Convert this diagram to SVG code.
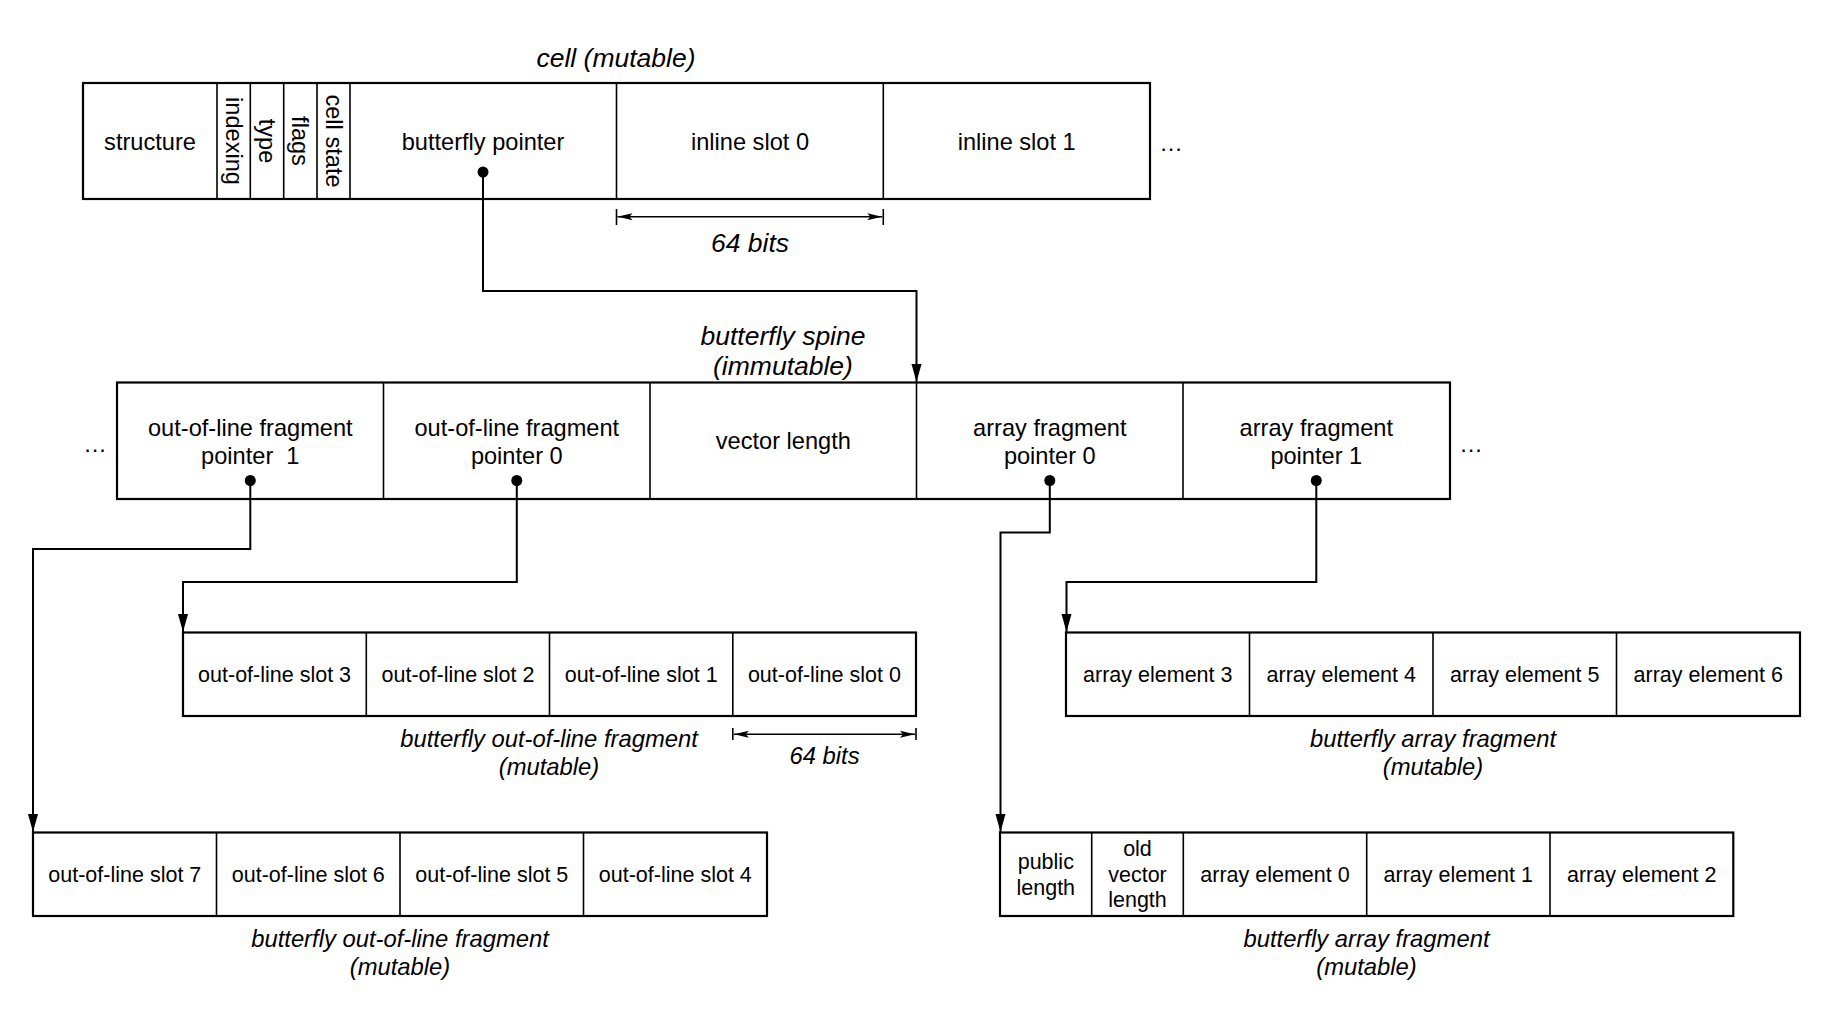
<svg xmlns="http://www.w3.org/2000/svg" width="1833" height="1016" viewBox="0 0 1833 1016">
<style>
.box{fill:#fff;stroke:#000;stroke-width:2.2}
.div{stroke:#000;stroke-width:1.6;fill:none}
.lbl{font-family:"Liberation Sans",Arial,sans-serif;font-size:23.6px;fill:#000;text-anchor:middle}
.sm{font-family:"Liberation Sans",Arial,sans-serif;font-size:21.5px;fill:#000;text-anchor:middle}
.cap{font-family:"Liberation Sans",Arial,sans-serif;font-size:26.5px;font-style:italic;fill:#000;text-anchor:middle}
.cap2{font-family:"Liberation Sans",Arial,sans-serif;font-size:23.8px;font-style:italic;fill:#000;text-anchor:middle}
.vt{font-family:"Liberation Sans",Arial,sans-serif;font-size:23.6px;fill:#000;text-anchor:middle;dominant-baseline:central}
.conn{stroke:#000;stroke-width:2;fill:none}
.dim{stroke:#000;stroke-width:1.6;fill:none}
</style>
<defs>
<marker id="arr" markerUnits="userSpaceOnUse" markerWidth="18" markerHeight="11" refX="18" refY="5.5" orient="auto">
<path d="M0,0.5 L18,5.5 L0,10.5 z" fill="#000"/>
</marker>
<marker id="darr" markerUnits="userSpaceOnUse" markerWidth="15" markerHeight="9" refX="15" refY="4.5" orient="auto-start-reverse">
<path d="M0,1 L15,4.5 L0,8 L3,4.5 z" fill="#000"/>
</marker>
</defs>
<rect width="1833" height="1016" fill="#fff"/>

<text class="cap" x="616" y="67">cell (mutable)</text>
<text class="cap" x="750" y="252">64 bits</text>
<text class="cap" x="783" y="345">butterfly spine</text>
<text class="cap" x="783" y="375">(immutable)</text>

<g id="cell">
<rect class="box" x="83" y="83" width="1067" height="116"/>
<path class="div" d="M217,83V199M250.3,83V199M283.7,83V199M317,83V199M350,83V199M616.5,83V199M883.3,83V199"/>
<text class="lbl" x="150" y="150">structure</text>
<text class="vt" transform="translate(233.6,141) rotate(90)">indexing</text>
<text class="vt" transform="translate(267,141) rotate(90)">type</text>
<text class="vt" transform="translate(300.3,141) rotate(90)">flags</text>
<text class="vt" transform="translate(333.5,141) rotate(90)">cell state</text>
<text class="lbl" x="483" y="150">butterfly pointer</text>
<text class="lbl" x="750" y="150">inline slot 0</text>
<text class="lbl" x="1016.7" y="150">inline slot 1</text>
<circle cx="483" cy="172" r="5.5" fill="#000"/>
<text class="lbl" x="1171" y="151">…</text>
</g>

<g id="dim-top">
<path class="dim" d="M616.5,209V225M883.3,209V225"/>
<path class="dim" d="M617.5,216.7H882.3" marker-start="url(#darr)" marker-end="url(#darr)"/>
</g>

<g id="spine">
<rect class="box" x="117" y="382.5" width="1333" height="116.5"/>
<path class="div" d="M383.5,382.5V499M650,382.5V499M916.5,382.5V499M1183,382.5V499"/>
<text class="lbl" x="250.3" y="436">out-of-line fragment</text>
<text class="lbl" x="250.3" y="464" xml:space="preserve">pointer  1</text>
<text class="lbl" x="516.8" y="436">out-of-line fragment</text>
<text class="lbl" x="516.8" y="464">pointer 0</text>
<text class="lbl" x="783.3" y="449">vector length</text>
<text class="lbl" x="1049.8" y="436">array fragment</text>
<text class="lbl" x="1049.8" y="464">pointer 0</text>
<text class="lbl" x="1316.3" y="436">array fragment</text>
<text class="lbl" x="1316.3" y="464">pointer 1</text>
<circle cx="250.3" cy="480.5" r="5.5" fill="#000"/>
<circle cx="516.8" cy="480.5" r="5.5" fill="#000"/>
<circle cx="1049.8" cy="480.5" r="5.5" fill="#000"/>
<circle cx="1316.3" cy="480.5" r="5.5" fill="#000"/>
<text class="lbl" x="95" y="452">…</text>
<text class="lbl" x="1471" y="452">…</text>
</g>

<g id="ool-fragment-0">
<rect class="box" x="183" y="632.5" width="733" height="83.5"/>
<path class="div" d="M366.3,632.5V716M549.5,632.5V716M732.8,632.5V716"/>
<text class="sm" x="274.6" y="682">out-of-line slot 3</text>
<text class="sm" x="458" y="682">out-of-line slot 2</text>
<text class="sm" x="641.2" y="682">out-of-line slot 1</text>
<text class="sm" x="824.4" y="682">out-of-line slot 0</text>
<text class="cap2" x="549" y="747">butterfly out-of-line fragment</text>
<text class="cap2" x="549" y="775">(mutable)</text>
</g>

<g id="dim-bottom">
<path class="dim" d="M732.8,728V740M916,728V740"/>
<path class="dim" d="M733.8,734.3H915" marker-start="url(#darr)" marker-end="url(#darr)"/>
<text class="cap2" x="824.5" y="764">64 bits</text>
</g>

<g id="array-fragment-1">
<rect class="box" x="1066" y="632.5" width="734" height="83.5"/>
<path class="div" d="M1249.5,632.5V716M1433,632.5V716M1616.5,632.5V716"/>
<text class="sm" x="1157.8" y="682">array element 3</text>
<text class="sm" x="1341.3" y="682">array element 4</text>
<text class="sm" x="1524.8" y="682">array element 5</text>
<text class="sm" x="1708.3" y="682">array element 6</text>
<text class="cap2" x="1433" y="747">butterfly array fragment</text>
<text class="cap2" x="1433" y="775">(mutable)</text>
</g>

<g id="ool-fragment-1">
<rect class="box" x="33" y="832.5" width="734" height="83.5"/>
<path class="div" d="M216.5,832.5V916M400,832.5V916M583.5,832.5V916"/>
<text class="sm" x="124.8" y="882">out-of-line slot 7</text>
<text class="sm" x="308.3" y="882">out-of-line slot 6</text>
<text class="sm" x="491.8" y="882">out-of-line slot 5</text>
<text class="sm" x="675.3" y="882">out-of-line slot 4</text>
<text class="cap2" x="400" y="947">butterfly out-of-line fragment</text>
<text class="cap2" x="400" y="975">(mutable)</text>
</g>

<g id="array-fragment-0">
<rect class="box" x="1000" y="832.5" width="733.3" height="83.5"/>
<path class="div" d="M1091.7,832.5V916M1183.3,832.5V916M1366.7,832.5V916M1550,832.5V916"/>
<text class="sm" x="1045.8" y="869">public</text>
<text class="sm" x="1045.8" y="894.5">length</text>
<text class="sm" x="1137.5" y="856">old</text>
<text class="sm" x="1137.5" y="881.5">vector</text>
<text class="sm" x="1137.5" y="907">length</text>
<text class="sm" x="1275" y="882">array element 0</text>
<text class="sm" x="1458.3" y="882">array element 1</text>
<text class="sm" x="1641.7" y="882">array element 2</text>
<text class="cap2" x="1366.5" y="947">butterfly array fragment</text>
<text class="cap2" x="1366.5" y="975">(mutable)</text>
</g>

<g id="connectors">
<path class="conn" d="M483,172V291H916.5V382" marker-end="url(#arr)"/>
<path class="conn" d="M250.3,480.5V549H33V832" marker-end="url(#arr)"/>
<path class="conn" d="M516.8,480.5V582H183V632" marker-end="url(#arr)"/>
<path class="conn" d="M1049.8,480.5V532.5H1000.5V832" marker-end="url(#arr)"/>
<path class="conn" d="M1316.3,480.5V582H1066.5V632" marker-end="url(#arr)"/>
</g>
</svg>
